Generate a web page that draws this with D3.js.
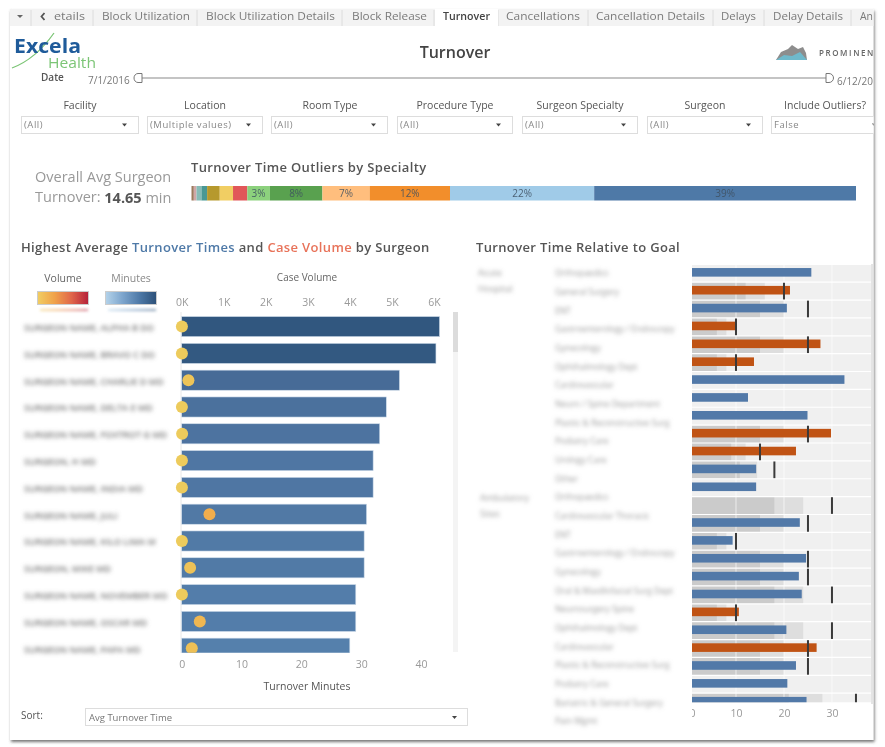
<!DOCTYPE html>
<html><head><meta charset="utf-8">
<script src="https://cdn.jsdelivr.net/npm/d3@7"></script>
<style>
html,body{margin:0;padding:0;background:#fff;overflow:hidden}
svg{display:block;filter:blur(.6px)}
text{font-family:"Open Sans",sans-serif}
</style></head><body>
<svg id="c" width="885" height="747"></svg>
<script>
// ---- data ----
const tabNames=["etails","Block Utilization","Block Utilization Details","Block Release","Turnover","Cancellations","Cancellation Details","Delays","Delay Details","An"];
const filterNames=["Facility","Location","Room Type","Procedure Type","Surgeon Specialty","Surgeon","Include Outliers?"];
const filterValues=["(All)","(Multiple values)","(All)","(All)","(All)","(All)","False"];
const outlierShares=[0.35,0.4,0.75,0.85,1.9,2.0,2.15,3.4,7.9,7.1,12.1,21.7,39.4];
const outlierColors=["#9c7a5e","#d0a7a7","#86bcb6","#499894","#b6992d","#f1ce63","#e15759","#8cd17d","#59a14f","#ffbe7d","#f28e2b","#a0cbe8","#4e79a7"];
// surgeon names are illegible in the reference: neutral placeholders of similar length
const surgeons=["SURGEON NAME, ALPHA B DO","SURGEON NAME, BRAVO C DO","SURGEON NAME, CHARLIE D MD","SURGEON NAME, DELTA E MD","SURGEON NAME, FOXTROT G MD","SURGEON, H MD","SURGEON NAME, INDIA MD","SURGEON NAME, JULI","SURGEON NAME, KILO LIMA M","SURGEON, MIKE MD","SURGEON NAME, NOVEMBER MD","SURGEON NAME, OSCAR MD","SURGEON NAME, PAPA MD"];
const avgMinutes=[43.1,42.5,36.4,34.2,33.1,32.0,32.0,30.9,30.5,30.5,29.1,29.1,28.1];
const caseVolume=[5,5,160,5,10,5,5,660,5,200,5,430,240];
const minuteTicks=[0,10,20,30,40];
const volumeTicks=[0,1000,2000,3000,4000,5000,6000];
const specialtyLabels=["Orthopaedics","General Surgery","ENT","Gastroenterology / Endoscopy","Gynecology","Ophthalmology Dept","Cardiovascular","Neuro / Spine Department","Plastic & Reconstructive Surg","Podiatry Care","Urology Care","Other","Orthopaedics","Cardiovascular Thoracic","ENT","Gastroenterology / Endoscopy","Gynecology","Oral & Maxillofacial Surg Dept","Neurosurgery Spine","Ophthalmology Dept","Cardiovascular","Plastic & Reconstructive Surg","Podiatry Care","Bariatric & General Surgery","Pain Mgmt"];
const groupLabels=[["Acute","Hospital"],["Ambulatory","Sites"]];
const goalActual=[25.7,21.25,20.6,10,27.6,13.75,32.6,12.5,24.9,29.8,22.5,14.2,14.2,null,23.3,9.3,24.6,23.1,23.7,10.6,20.5,26.8,22.5,20.7,24.7];
const goalTarget=[null,20,25,10,25,10,null,null,null,25,15,18,null,30,25,10,25,25,30,10,30,25,25,null,35];
const goalTicks=[0,10,20,30];

const svg=d3.select("#c");
const defs=svg.append("defs");
const txt=(g,x,y,s,o={})=>g.append("text").attr("x",x).attr("y",y+1).text(s)
  .attr("font-size",o.size||10).attr("fill",o.fill||"#555").attr("font-weight",o.weight||400)
  .attr("letter-spacing",o.ls||0)
  .attr("text-anchor",o.anchor||"start").attr("dominant-baseline","middle");

// filters and clips
const sh=defs.append("filter").attr("id","shadow").attr("x","-5%").attr("y","-5%").attr("width","110%").attr("height","110%");
sh.append("feDropShadow").attr("dx",1).attr("dy",2).attr("stdDeviation",1.5).attr("flood-color","#555").attr("flood-opacity",.8);
const bl=defs.append("filter").attr("id","blurText").attr("x","-10%").attr("y","-50%").attr("width","120%").attr("height","200%");
bl.append("feGaussianBlur").attr("stdDeviation",1.9);
const bl2=defs.append("filter").attr("id","glow").attr("x","-20%").attr("y","-200%").attr("width","140%").attr("height","500%");
bl2.append("feGaussianBlur").attr("stdDeviation",1.5);
const clip=(id,x,y,w,h)=>defs.append("clipPath").attr("id",id).append("rect").attr("x",x).attr("y",y).attr("width",w).attr("height",h);
clip("frameClip",10,9,863.5,731);
clip("leftClip",170,312,290,340.7);
clip("rightClip",692,264,180,438.3);
clip("rightAxisClip",692,705,180,25);
const grad=(id,stops)=>{const g=defs.append("linearGradient").attr("id",id);stops.forEach((c,i)=>g.append("stop").attr("offset",i/(stops.length-1)).attr("stop-color",c));};
grad("gVol",["#f1ce63","#f0a24a","#e0664a","#b5203a"]);
grad("gMin",["#b4d3ea","#7da5cd","#4e79a7","#2c5078"]);

// frame
svg.append("rect").attr("x",10).attr("y",9).attr("width",863.5).attr("height",731).attr("fill","#fff").attr("filter","url(#shadow)");
const root=svg.append("g").attr("clip-path","url(#frameClip)");

// tabs
root.append("rect").attr("x",10).attr("y",9).attr("width",864).attr("height",17).attr("fill","#f3f3f3");
const tabTextX=[54,102,206,352,443,506,596,721,773,860];
const tabTextW=[31,88,129,75,47,74,109,35,70,13];
const tabSepX=[31,93,197,342,434,498,588,713,764,851];
tabSepX.forEach(x=>root.append("line").attr("x1",x).attr("x2",x).attr("y1",10).attr("y2",26).attr("stroke","#dcdcdc"));
root.append("rect").attr("x",435).attr("y",9).attr("width",63).attr("height",18).attr("fill","#fff");
tabNames.forEach((t,i)=>txt(root,tabTextX[i],16,t,{size:11,fill:i==4?"#444":"#7a7a7a"}).attr("textLength",tabTextW[i]).attr("lengthAdjust","spacingAndGlyphs").attr("font-weight",i==4?600:400));
root.append("rect").attr("x",33).attr("y",9).attr("width",20).attr("height",17).attr("fill","#f3f3f3");
root.append("path").attr("d","M17 15h6l-3 3z").attr("fill","#666");
root.append("path").attr("d","M44.5 13l-3 3.5 3 3.5").attr("fill","none").attr("stroke","#555").attr("stroke-width",1.8);

// header
txt(root,455,52.5,"Turnover",{size:16,weight:600,fill:"#444",anchor:"middle"});
root.append("path").attr("d","M12 68C28 62 42 50 54 33").attr("fill","none").attr("stroke","#7cc576").attr("stroke-width",1.3);
txt(root,14,47,"Excela",{size:19,weight:700,fill:"#1f5b9a"}).attr("textLength",67).attr("lengthAdjust","spacingAndGlyphs");
txt(root,48,63,"Health",{size:15,fill:"#7cc576"}).attr("textLength",48).attr("lengthAdjust","spacingAndGlyphs");
root.append("path").attr("d","M776 60L781 52 788 49 792 45 798 49 803 47 806 53 807 60Z").attr("fill","#8d8d8d");
root.append("path").attr("d","M776 60L784 55 792 56 800 52 807 60Z").attr("fill","#6fb9cb");
txt(root,819,53,"PROMINEN",{size:8,weight:600,fill:"#666",ls:1.6});
txt(root,41,77,"Date",{size:10,fill:"#555",weight:600});
txt(root,88,80,"7/1/2016",{size:10,fill:"#777"});
root.append("line").attr("x1",140).attr("x2",826).attr("y1",78).attr("y2",78).attr("stroke","#c4c4c4").attr("stroke-width",2);
root.append("path").attr("d","M142 73.5h-4a4 4.5 0 0 0 0 9h4z").attr("fill","#fff").attr("stroke","#777");
root.append("path").attr("d","M826 73.5h3a4.5 4.5 0 0 1 0 9h-3z").attr("fill","#fff").attr("stroke","#777");
txt(root,837,81,"6/12/20",{size:10,fill:"#777"});

// quick filters
const boxX=[21,147,271,397,522,647,771], boxW=[117,115,116,115,115,115,117], labX=[80,205,330,455,580,705,825];
filterNames.forEach((n,i)=>{
  txt(root,labX[i],105.5,n,{size:10.5,anchor:"middle",fill:"#555"});
  root.append("rect").attr("x",boxX[i]+.5).attr("y",116.5).attr("width",boxW[i]).attr("height",17).attr("fill","#fff").attr("stroke","#ddd");
  txt(root,boxX[i]+3,124,filterValues[i],{size:9.5,fill:"#888",ls:.55});
  root.append("path").attr("d",`M${boxX[i]+boxW[i]-16} 123.5h5l-2.5 3z`).attr("fill","#444");
});

// overall kpi
txt(root,35,177.5,"Overall Avg Surgeon",{size:14.5,fill:"#999"});
const kpi=txt(root,35,197.5,"Turnover: ",{size:14.5,fill:"#999"});
kpi.append("tspan").text("14.65").attr("font-weight",700).attr("fill","#555");
kpi.append("tspan").text(" min");

// outlier stacked bar
txt(root,191,167.5,"Turnover Time Outliers by Specialty",{size:13,weight:600,fill:"#555",ls:.35});
const xShare=d3.scaleLinear().domain([0,d3.sum(outlierShares)]).range([191.5,856]);
let cum=0;
const cums=outlierShares.map(v=>{const a=cum;cum+=v;return a;});
const seg=root.append("g").selectAll("g").data(outlierShares).join("g");
seg.append("rect").attr("x",(d,i)=>xShare(cums[i])).attr("width",d=>xShare(d)-xShare(0)).attr("y",186).attr("height",14.5).attr("fill",(d,i)=>outlierColors[i]);
seg.filter(d=>d>=3).append("text").attr("x",d=>xShare(cums[outlierShares.indexOf(d)]+d/2)).attr("y",194)
  .attr("text-anchor","middle").attr("dominant-baseline","middle").attr("font-size",10).attr("fill","#3e5060").attr("fill-opacity",.85).text(d=>Math.round(d)+"%");

// left chart
const t1=txt(root,21,248,"Highest Average ",{size:13,weight:600,fill:"#555",ls:.35});
t1.append("tspan").text("Turnover Times").attr("fill","#4e79a7");
t1.append("tspan").text(" and ");
t1.append("tspan").text("Case Volume").attr("fill","#e8735a");
t1.append("tspan").text(" by Surgeon");
txt(root,63,278.5,"Volume",{size:10.5,anchor:"middle",fill:"#666"});
txt(root,131,278.5,"Minutes",{size:10.5,anchor:"middle",fill:"#888"});
root.append("rect").attr("x",40).attr("y",309).attr("width",48).attr("height",2).attr("fill","url(#gVol)").attr("filter","url(#glow)").attr("opacity",.55);
root.append("rect").attr("x",108).attr("y",309).attr("width",48).attr("height",2).attr("fill","url(#gMin)").attr("filter","url(#glow)").attr("opacity",.55);
root.append("rect").attr("x",37.5).attr("y",291.5).attr("width",51).attr("height",13).attr("fill","url(#gVol)").attr("stroke","#ccc");
root.append("rect").attr("x",105.5).attr("y",291.5).attr("width",51).attr("height",13).attr("fill","url(#gMin)").attr("stroke","#ccc");
txt(root,307,277.5,"Case Volume",{size:10,anchor:"middle",fill:"#666"});
txt(root,307,686.5,"Turnover Minutes",{size:10.5,anchor:"middle",fill:"#555"});

const xMin=d3.scaleLinear().domain([0,40]).range([181.7,421]);
const xVol=d3.scaleLinear().domain([0,6000]).range([181.7,434]);
const yS=d3.scaleBand().domain(surgeons.map((d,i)=>i)).range([313.2,661.6]).paddingInner(.25).paddingOuter(.125);
const barColor=d3.scaleLinear().domain([28,32,36.5,43]).range(["#5580ac","#4f76a3","#476b97","#31577f"]);
const axisStyle=g=>{g.select(".domain").remove();g.selectAll("line").remove();g.selectAll("text").attr("fill","#999").attr("font-size",10.5).attr("font-family",'"Open Sans",sans-serif');};
root.append("g").attr("transform","translate(0,306)").call(d3.axisTop(xVol).tickValues(volumeTicks).tickFormat(d=>d/1000+"K").tickSize(0).tickPadding(0)).call(axisStyle);
root.append("g").attr("transform","translate(0,661)").call(d3.axisBottom(xMin).tickValues(minuteTicks).tickSize(0).tickPadding(0)).call(axisStyle);
root.append("rect").attr("x",453).attr("y",312).attr("width",5).attr("height",340).attr("fill","#f4f4f4");
root.append("rect").attr("x",453).attr("y",312).attr("width",5).attr("height",40).attr("fill","#dcdcdc");
root.append("line").attr("x1",181).attr("x2",181).attr("y1",312).attr("y2",653).attr("stroke","#e8e8e8");
const lp=root.append("g").attr("clip-path","url(#leftClip)");
lp.selectAll("rect.b").data(avgMinutes).join("rect").attr("class","b")
  .attr("x",xMin(0)).attr("y",(d,i)=>yS(i)).attr("width",d=>xMin(d)-xMin(0)).attr("height",yS.bandwidth()).attr("fill",d=>barColor(d)).attr("stroke","#cfdcea").attr("stroke-width",.6);
lp.selectAll("circle").data(caseVolume).join("circle")
  .attr("cx",d=>xVol(d)).attr("cy",(d,i)=>yS(i)+yS.bandwidth()/2).attr("r",6).attr("fill",d=>d3.interpolateRgb("#edcb5c","#f1ad4c")(Math.min(1,d/660)));
root.append("g").attr("filter","url(#blurText)").selectAll("text").data(surgeons).join("text")
  .attr("x",24).attr("y",(d,i)=>yS(i)+yS.bandwidth()/2+2).attr("dominant-baseline","middle").attr("font-size",9).attr("font-weight",600).attr("fill","#777").text(d=>d);
txt(root,21,715.5,"Sort:",{size:10,fill:"#555"});
root.append("rect").attr("x",85.5).attr("y",708.5).attr("width",382).attr("height",17).attr("fill","#fff").attr("stroke","#ddd");
txt(root,89,717,"Avg Turnover Time",{size:9.5,fill:"#777"});
root.append("path").attr("d","M452 716h5l-2.5 3z").attr("fill","#444");

// right chart
txt(root,476,248,"Turnover Time Relative to Goal",{size:13,weight:600,fill:"#555",ls:.35});
const xGoal=d3.scaleLinear().domain([0,38.3]).range([688,871.8]);
const rowStep=17.87;
const yRow=d3.scaleBand().domain(goalActual.map((d,i)=>i)).range([264.3,264.3+rowStep*goalActual.length]);
const rp=root.append("g").attr("clip-path","url(#rightClip)");
rp.append("rect").attr("x",692).attr("y",264).attr("width",180).attr("height",440).attr("fill","#f0f0f0");
const goals=goalTarget.map((g,i)=>({g,i})).filter(d=>d.g!=null);
rp.selectAll("rect.b2").data(goals).join("rect").attr("class","b2").attr("x",xGoal(0)).attr("y",d=>yRow(d.i)).attr("width",d=>xGoal(d.g*.8)-xGoal(0)).attr("height",yRow.bandwidth()).attr("fill","#dedede");
rp.selectAll("rect.b1").data(goals).join("rect").attr("class","b1").attr("x",xGoal(0)).attr("y",d=>yRow(d.i)).attr("width",d=>xGoal(d.g*.6)-xGoal(0)).attr("height",yRow.bandwidth()).attr("fill","#cbcbcb");
rp.selectAll("line.grid").data(goalTicks.slice(1)).join("line").attr("class","grid").attr("x1",d=>xGoal(d)).attr("x2",d=>xGoal(d)).attr("y1",264).attr("y2",704).attr("stroke","#fff").attr("stroke-opacity",.55).attr("stroke-width",1.2);
rp.selectAll("line.sep").data(yRow.domain()).join("line").attr("class","sep").attr("x1",692).attr("x2",872).attr("y1",d=>yRow(d)).attr("y2",d=>yRow(d)).attr("stroke","#fff").attr("stroke-width",1.2);
const acts=goalActual.map((v,i)=>({v,i,g:goalTarget[i]})).filter(d=>d.v!=null);
rp.selectAll("rect.a").data(acts).join("rect").attr("class","a").attr("x",xGoal(0)).attr("y",d=>yRow(d.i)+yRow.bandwidth()/2-5.2).attr("width",d=>xGoal(d.v)-xGoal(0)).attr("height",8.6)
  .attr("fill",d=>d.g!=null&&d.v>=d.g?"#c05314":"#5279a8");
rp.selectAll("rect.m").data(goals).join("rect").attr("class","m").attr("x",d=>xGoal(d.g)-1).attr("y",d=>yRow(d.i)+.6).attr("width",2).attr("height",yRow.bandwidth()-1.2).attr("fill","#3a3a3a");
root.append("rect").attr("x",871).attr("y",264).attr("width",2.5).attr("height",440).attr("fill","#e4e4e4");
root.append("g").attr("clip-path","url(#rightAxisClip)").append("g").attr("transform","translate(0,710)")
  .call(d3.axisBottom(xGoal).tickValues(goalTicks).tickSize(0).tickPadding(0)).call(axisStyle)
  .call(g=>g.selectAll("text").filter(d=>d===0).attr("dx",4));
const yLab=d3.scaleBand().domain(specialtyLabels.map((d,i)=>i)).range([264.7,264.7+18.67*specialtyLabels.length]);
const blurG=root.append("g").attr("filter","url(#blurText)");
blurG.selectAll("text.s").data(specialtyLabels).join("text").attr("class","s").attr("x",555)
  .attr("y",(d,i)=>yLab(i)+yLab.bandwidth()/2).attr("dominant-baseline","middle").attr("font-size",8.5).attr("fill","#999").text(d=>d);
groupLabels.forEach((g,k)=>g.forEach((s,j)=>txt(blurG,k?480:478,(k?498:273)+j*15.5,s,{size:9,fill:"#999"})));
</script>
</body></html>
